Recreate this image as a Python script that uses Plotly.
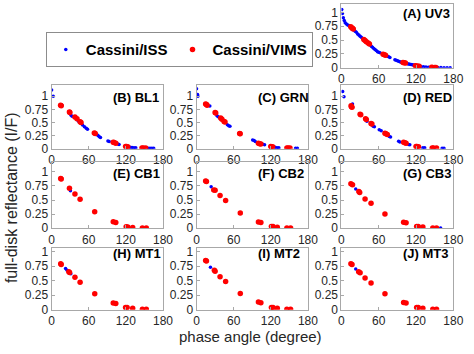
import plotly.graph_objects as go

# ---------------- data ----------------
PANELS = ["(A) UV3", "(B) BL1", "(C) GRN", "(D) RED", "(E) CB1",
          "(F) CB2", "(G) CB3", "(H) MT1", "(I) MT2", "(J) MT3"]

UV3_ISS_PHASE = [0.5, 1.5, 3, 4.5, 6, 8, 10, 12, 14, 20, 22, 24, 26, 28, 30, 32, 34, 42, 48, 50,
                 52, 54, 56, 58, 60, 62, 74, 76, 78, 86, 88, 90, 92, 94, 96, 106, 108, 110, 112,
                 114, 116, 118, 128, 132, 136, 140, 155, 160, 165, 170, 175]
UV3_ISS_IF = [1.05, 0.98, 0.9, 0.85, 0.81, 0.79, 0.77, 0.76, 0.74, 0.68, 0.66, 0.64, 0.61, 0.59,
              0.57, 0.55, 0.53, 0.46, 0.39, 0.37, 0.35, 0.33, 0.31, 0.29, 0.28, 0.27, 0.21, 0.2,
              0.185, 0.145, 0.135, 0.125, 0.12, 0.11, 0.1, 0.075, 0.07, 0.065, 0.06, 0.055, 0.05,
              0.045, 0.025, 0.02, 0.015, 0.012, 0.005, 0.004, 0.003, 0.002, 0.002]
UV3_VIMS_PHASE = [15, 16.5, 18, 19, 36, 38, 40, 43, 45, 67, 69, 71, 99, 101, 103, 119, 121, 123,
                  125, 145, 147, 150, 152]
UV3_VIMS_IF = [0.74, 0.72, 0.71, 0.7, 0.51, 0.49, 0.47, 0.445, 0.43, 0.245, 0.235, 0.225, 0.095,
               0.09, 0.085, 0.035, 0.032, 0.03, 0.028, 0.008, 0.007, 0.006, 0.006]

BL1_ISS_PHASE = [0, 2.6, 16.5, 31, 33, 43, 50, 53, 56, 58, 73, 75, 77, 79, 91, 93, 107, 109, 127,
                 130, 133, 136, 156, 159, 162, 165]
BL1_ISS_IF = [1.12, 1.0, 0.83, 0.64, 0.62, 0.53, 0.45, 0.42, 0.39, 0.37, 0.27, 0.25, 0.23, 0.215,
              0.15, 0.14, 0.09, 0.08, 0.03, 0.025, 0.02, 0.018, 0.01, 0.01, 0.01, 0.01]
BL1_VIMS_PHASE = [14.5, 15.5, 28.8, 29.5, 37.7, 41, 46, 47.5, 69, 70.5, 99.5, 101, 103.7, 119.5,
                  121, 123, 146, 148, 152]
BL1_VIMS_IF = [0.83, 0.82, 0.7, 0.69, 0.605, 0.57, 0.515, 0.5, 0.3, 0.29, 0.125, 0.12, 0.105,
               0.045, 0.042, 0.04, 0.015, 0.015, 0.015]

GRN_ISS_PHASE = [0, 1.6, 2.2, 21.5, 33, 35, 49.8, 52, 54, 90.7, 93, 95, 107, 110, 127, 130, 133,
                 160, 163]
GRN_ISS_IF = [1.14, 1.03, 1.0, 0.815, 0.63, 0.61, 0.457, 0.44, 0.43, 0.167, 0.155, 0.14, 0.085,
              0.075, 0.03, 0.02, 0.018, 0.01, 0.01]
GRN_VIMS_PHASE = [14.7, 16, 17, 30, 31, 39, 41, 44.5, 46, 69.7, 70.5, 100, 102, 104, 120, 121,
                  123, 146, 148, 151]
GRN_VIMS_IF = [0.85, 0.84, 0.83, 0.69, 0.68, 0.585, 0.56, 0.52, 0.51, 0.29, 0.285, 0.105, 0.095,
               0.09, 0.043, 0.04, 0.038, 0.015, 0.015, 0.015]

RED_ISS_PHASE = [2, 4, 17.8, 40.9, 51, 53, 60.8, 64, 77, 79, 92, 94, 108, 110, 131, 134, 162, 165]
RED_ISS_IF = [1.09, 0.99, 0.85, 0.525, 0.43, 0.42, 0.36, 0.345, 0.235, 0.225, 0.142, 0.13, 0.08,
              0.075, 0.02, 0.018, 0.01, 0.01]
RED_VIMS_PHASE = [15.5, 16, 17, 30, 31, 38.8, 40, 47.6, 49, 70, 71.5, 73.8, 100, 102, 104, 120,
                  121.5, 124, 146, 148, 153]
RED_VIMS_IF = [0.82, 0.8, 0.79, 0.655, 0.645, 0.57, 0.555, 0.48, 0.47, 0.295, 0.285, 0.27, 0.123,
               0.115, 0.105, 0.045, 0.043, 0.04, 0.015, 0.015, 0.015]

CB1_ISS_PHASE = [30.4]
CB1_ISS_IF = [0.665]
CB1_VIMS_PHASE = [14.7, 15.5, 28.8, 37.7, 46, 69.6, 99.6, 103.7, 120.5, 123, 131, 146.7, 153]
CB1_VIMS_IF = [0.885, 0.875, 0.71, 0.607, 0.515, 0.29, 0.116, 0.1, 0.025, 0.022, 0.01, 0.005,
               0.005]

CB2_ISS_PHASE = [23.6]
CB2_ISS_IF = [0.735]
CB2_VIMS_PHASE = [14.7, 16, 27.8, 30, 38, 47, 70.7, 100, 104, 121, 123.6, 130.5, 146, 152]
CB2_VIMS_IF = [0.84, 0.83, 0.68, 0.675, 0.58, 0.49, 0.27, 0.11, 0.1, 0.03, 0.028, 0.015, 0.005,
               0.005]

CB3_ISS_PHASE = [23, 159.6]
CB3_ISS_IF = [0.695, 0.005]
CB3_VIMS_PHASE = [15.2, 17.8, 28, 29.3, 38, 47.6, 70, 100, 104, 121, 123.6, 131, 147, 153]
CB3_VIMS_IF = [0.79, 0.77, 0.65, 0.635, 0.52, 0.445, 0.25, 0.105, 0.095, 0.03, 0.028, 0.02,
               0.005, 0.005]

MT1_ISS_PHASE = [22.5, 25, 31]
MT1_ISS_IF = [0.71, 0.68, 0.62]
MT1_VIMS_PHASE = [14.7, 15.5, 27.8, 29, 37.7, 46, 69.7, 99.6, 103.7, 119.5, 122, 131, 146.7, 153]
MT1_VIMS_IF = [0.79, 0.78, 0.655, 0.64, 0.56, 0.475, 0.275, 0.118, 0.11, 0.04, 0.038, 0.025, 0.01,
               0.01]

MT2_ISS_PHASE = [22.5]
MT2_ISS_IF = [0.73]
MT2_VIMS_PHASE = [14.7, 16, 28.8, 30, 38, 47, 70.7, 100, 104, 121, 123.6, 130.5, 146, 152]
MT2_VIMS_IF = [0.85, 0.84, 0.68, 0.665, 0.57, 0.485, 0.28, 0.135, 0.12, 0.04, 0.038, 0.025, 0.01,
               0.01]

MT3_ISS_PHASE = [23]
MT3_ISS_IF = [0.7]
MT3_VIMS_PHASE = [15.2, 17, 27.7, 30, 38, 47.6, 70, 100, 104, 121, 123.6, 131, 147, 153]
MT3_VIMS_IF = [0.79, 0.78, 0.655, 0.635, 0.545, 0.46, 0.275, 0.125, 0.115, 0.04, 0.038, 0.025,
               0.01, 0.01]

X_TICKS = [0, 60, 120, 180]
Y_TICKS = [0, 0.25, 0.5, 0.75, 1]
Y_TICKTEXT = ["0", "0.25", "0.5", "0.75", "1"]

DATA = [
    (UV3_ISS_PHASE, UV3_ISS_IF, UV3_VIMS_PHASE, UV3_VIMS_IF),
    (BL1_ISS_PHASE, BL1_ISS_IF, BL1_VIMS_PHASE, BL1_VIMS_IF),
    (GRN_ISS_PHASE, GRN_ISS_IF, GRN_VIMS_PHASE, GRN_VIMS_IF),
    (RED_ISS_PHASE, RED_ISS_IF, RED_VIMS_PHASE, RED_VIMS_IF),
    (CB1_ISS_PHASE, CB1_ISS_IF, CB1_VIMS_PHASE, CB1_VIMS_IF),
    (CB2_ISS_PHASE, CB2_ISS_IF, CB2_VIMS_PHASE, CB2_VIMS_IF),
    (CB3_ISS_PHASE, CB3_ISS_IF, CB3_VIMS_PHASE, CB3_VIMS_IF),
    (MT1_ISS_PHASE, MT1_ISS_IF, MT1_VIMS_PHASE, MT1_VIMS_IF),
    (MT2_ISS_PHASE, MT2_ISS_IF, MT2_VIMS_PHASE, MT2_VIMS_IF),
    (MT3_ISS_PHASE, MT3_ISS_IF, MT3_VIMS_PHASE, MT3_VIMS_IF),
]

# ---------------- layout geometry ----------------
W, H = 474, 354
COLS_PX = [(50, 164.5), (199, 313.5), (348, 463)]
ROWS_PX = [(1, 66.7), (84, 150), (164, 231.7), (251.7, 315.7)]
ROW_YMAX = [1.15, 1.22, 1.17, 1.07]
POS = [(0, 2), (1, 0), (1, 1), (1, 2), (2, 0), (2, 1), (2, 2), (3, 0), (3, 1), (3, 2)]

FONT = "Liberation Sans, Arial, Helvetica, sans-serif"
AXCOL = "#a8a8a8"
BLUE = "#0000ff"
RED = "#ff0000"
TICKFONT = dict(size=12, color="#262626", family=FONT)

fig = go.Figure()
layout = dict(
    width=W, height=H, margin=dict(l=0, r=0, t=0, b=0),
    paper_bgcolor="white", plot_bgcolor="white",
    font=dict(family=FONT, size=12, color="#262626"),
    showlegend=True,
    legend=dict(orientation="h", x=44 / W, y=1 - 30 / H, xanchor="left", yanchor="top",
                bordercolor="#8c8c8c", borderwidth=1, bgcolor="white",
                font=dict(family=FONT, size=15, color="black", weight="bold"),
                itemwidth=30, tracegroupgap=0),
)
annotations = []

for i, (label, (r, c), (ip, iv, vp, vv)) in enumerate(zip(PANELS, POS, DATA)):
    k = "" if i == 0 else str(i + 1)
    x0, x1 = COLS_PX[c]
    t, b = ROWS_PX[r]
    layout["xaxis" + k] = dict(domain=[x0 / W, x1 / W], range=[0, 180], anchor="y" + k,
                               tickvals=X_TICKS, showgrid=False, zeroline=False,
                               showline=True, linecolor=AXCOL, linewidth=1, mirror=True,
                               ticks="inside", ticklen=3, tickcolor=AXCOL,
                               tickfont=TICKFONT)
    layout["yaxis" + k] = dict(domain=[1 - b / H, 1 - t / H], range=[0, ROW_YMAX[r]],
                               anchor="x" + k, tickvals=Y_TICKS, ticktext=Y_TICKTEXT,
                               showgrid=False, zeroline=False,
                               showline=True, linecolor=AXCOL, linewidth=1, mirror=True,
                               ticks="inside", ticklen=3, tickcolor=AXCOL,
                               tickfont=TICKFONT)
    fig.add_trace(go.Scatter(x=ip, y=iv, mode="markers", xaxis="x" + k, yaxis="y" + k,
                             marker=dict(color=BLUE, size=3.5), name="Cassini/ISS",
                             legendgroup="iss", showlegend=(i == 0)))
    fig.add_trace(go.Scatter(x=vp, y=vv, mode="markers", xaxis="x" + k, yaxis="y" + k,
                             marker=dict(color=RED, size=5.5), name="Cassini/VIMS",
                             legendgroup="vims", showlegend=(i == 0)))
    annotations.append(dict(text="<b>" + label + "</b>", x=96, y=0.97, xref="x" + k,
                            yref="y" + k, xanchor="left", yanchor="middle", showarrow=False,
                            font=dict(size=13, color="black", family=FONT)))

annotations.append(dict(text="full-disk reflectance (I/F)", x=9 / W, y=1 - 200 / H,
                        xref="paper", yref="paper", textangle=-90, showarrow=False,
                        xanchor="center", yanchor="middle",
                        font=dict(size=16, color="#262626", family=FONT)))
annotations.append(dict(text="phase angle (degree)", x=254 / W, y=1 - 343 / H,
                        xref="paper", yref="paper", showarrow=False,
                        xanchor="center", yanchor="middle",
                        font=dict(size=15, color="#262626", family=FONT)))
layout["annotations"] = annotations
fig.update_layout(**layout)
fig.write_html("out.html")
